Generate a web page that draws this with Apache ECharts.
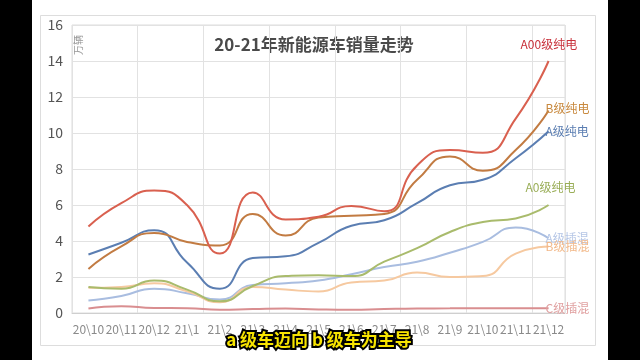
<!DOCTYPE html>
<html>
<head>
<meta charset="utf-8">
<script src="https://cdn.jsdelivr.net/npm/echarts@6/dist/echarts.min.js"></script>
<style>html,body{margin:0;padding:0;background:#fff}#c{width:640px;height:360px}</style>
</head>
<body>
<div id="c"></div>
<script>
var categories = ['20\\10','20\\11','20\\12','21\\1','21\\2','21\\3','21\\4','21\\5','21\\6','21\\7','21\\8','21\\9','21\\10','21\\11','21\\12'];
var yTicks = [0, 2, 4, 6, 8, 10, 12, 14, 16];
var a00EV  = [4.8, 6.1, 6.8, 6.0, 3.3, 6.7, 5.2, 5.35, 5.95, 5.65, 8.2, 9.05, 8.9, 10.8, 14.0];
var bEV    = [2.45, 3.7, 4.45, 3.95, 3.75, 5.5, 4.3, 5.3, 5.4, 5.5, 7.4, 8.7, 7.9, 9.05, 11.25];
var aEV    = [3.25, 3.9, 4.6, 2.8, 1.35, 3.05, 3.15, 3.9, 4.85, 5.15, 6.1, 7.1, 7.4, 8.6, 10.1];
var a0EV   = [1.45, 1.35, 1.8, 1.3, 0.65, 1.5, 2.05, 2.1, 2.05, 2.85, 3.6, 4.5, 5.05, 5.25, 6.0];
var aPHEV  = [0.7, 0.95, 1.35, 1.1, 0.75, 1.55, 1.65, 1.8, 2.15, 2.55, 2.85, 3.35, 3.95, 4.75, 4.15];
var bPHEV  = [1.4, 1.45, 1.65, 1.2, 0.6, 1.45, 1.3, 1.2, 1.7, 1.8, 2.25, 2.0, 2.05, 3.3, 3.7];
var cPHEV  = [0.25, 0.38, 0.28, 0.27, 0.18, 0.22, 0.25, 0.2, 0.18, 0.22, 0.25, 0.26, 0.27, 0.27, 0.27];

var seriesDefs = [
  {name:'C级插混', data:cPHEV, color:'#d98e90', labelColor:'#e0a0a0', offset:[-8,0]},
  {name:'A级插混', data:aPHEV, color:'#a9bde0', labelColor:'#b5c6e6', offset:[-8,0]},
  {name:'B级插混', data:bPHEV, color:'#f6c9a0', labelColor:'#f2b98a', offset:[-8,0]},
  {name:'A0级纯电', data:a0EV, color:'#a9bb6c', labelColor:'#9aae58', offset:[-28,-18]},
  {name:'A级纯电', data:aEV, color:'#5b7eb2', labelColor:'#5b7eb2', offset:[-8,0]},
  {name:'B级纯电', data:bEV, color:'#c27b42', labelColor:'#c8893e', offset:[-8,-2]},
  {name:'A00级纯电', data:a00EV, color:'#d9604f', labelColor:'#c8303a', offset:[-33,-17]}
];

var FONT = '"Noto Sans CJK SC", "Noto Sans", sans-serif';

var chart = echarts.init(document.getElementById('c'), null, {renderer:'canvas'});
chart.setOption({
  backgroundColor:'#ffffff',
  animation:false,
  textStyle:{fontFamily:FONT},
  grid:{left:72, right:75, top:25, bottom:47, show:true, borderColor:'#dcdcdc', borderWidth:1},
  xAxis:{
    type:'category', data:categories, boundaryGap:true,
    axisLine:{lineStyle:{color:'#cfcfcf'}},
    axisTick:{show:false},
    axisLabel:{interval:0, color:'#8a8a8a', fontSize:12, margin:10, fontFamily:FONT},
    splitLine:{show:true, interval:1, lineStyle:{color:'#e2e2e2'}}
  },
  yAxis:{
    type:'value', min:yTicks[0], max:yTicks[yTicks.length-1], interval:2,
    axisLine:{show:false}, axisTick:{show:false},
    axisLabel:{color:'#555', fontSize:14, margin:9, fontFamily:FONT},
    splitLine:{lineStyle:{color:'#e2e2e2'}}
  },
  series: seriesDefs.map(function(s){
    return {
      name:s.name, type:'line', data:s.data, smooth:0.55, symbol:'none',
      lineStyle:{width:2, color:s.color}, itemStyle:{color:s.color},
      endLabel:{show:true, formatter:s.name, color:s.labelColor, fontSize:12, fontFamily:FONT, offset:s.offset, distance:5}
    };
  }),
  graphic:[
    {type:'rect', left:0, top:0, shape:{width:32, height:360}, style:{fill:'#000'}, silent:true},
    {type:'rect', left:608, top:0, shape:{width:32, height:360}, style:{fill:'#000'}, silent:true},
    {type:'rect', shape:{x:40.5, y:15.5, width:555, height:330}, style:{fill:null, stroke:'#dddddd', lineWidth:1}, silent:true, z:-1},
    {type:'text', x:314, y:45, style:{text:'20-21年新能源车销量走势', fill:'#4a4a4a', font:'bold 17px ' + FONT, textAlign:'center', textVerticalAlign:'middle'}},
    {type:'text', x:78, y:45, rotation:Math.PI/2, style:{text:'万辆', fill:'#999', font:'10px ' + FONT, textAlign:'center', textVerticalAlign:'middle'}},
    {type:'text', x:319, y:340, z:100, style:{text:'a 级车迈向 b 级车为主导', fill:'#f7e400', stroke:'#000', lineWidth:4, font:'bold 17px ' + FONT, textAlign:'center', textVerticalAlign:'middle'}}
  ]
});
</script>
</body>
</html>
